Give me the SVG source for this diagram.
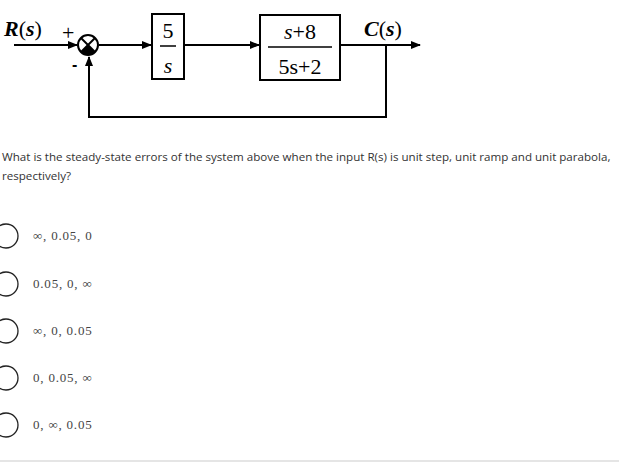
<svg xmlns="http://www.w3.org/2000/svg" width="619" height="471" viewBox="0 0 619 471">
<style>
.ln{stroke:#000;stroke-width:2;fill:none}
.bx{stroke:#000;stroke-width:2;fill:#fff}
.tm{font-family:'Liberation Serif','DejaVu Serif','Times New Roman',serif;font-size:22px;fill:#000}
.q{font-family:'Open Sans',sans-serif;font-size:11.6px;fill:#333}
.op{font-family:'Liberation Serif','DejaVu Serif',serif;font-size:13px;fill:#444;letter-spacing:0.8px}
.rad{stroke:#222;stroke-width:1.3;fill:#fff}
</style>
<defs><marker id="a" markerWidth="10" markerHeight="8" refX="9" refY="4" orient="auto" markerUnits="userSpaceOnUse"><path d="M0,0L10,4L0,8z" fill="#000"/></marker></defs>
<rect width="619" height="471" fill="#fff"/>
<g id="connectors">
<line class="ln" x1="14" y1="45" x2="77" y2="45" marker-end="url(#a)"/>
<line class="ln" x1="99" y1="45" x2="151" y2="45" marker-end="url(#a)"/>
<line class="ln" x1="185" y1="45" x2="259" y2="45" marker-end="url(#a)"/>
<line class="ln" x1="341" y1="45" x2="420" y2="45" marker-end="url(#a)"/>
<polyline class="ln" points="386,45 386,117 89,117 89,57" marker-end="url(#a)"/>
</g>
<g id="sum">
<circle cx="88" cy="45" r="10" class="bx"/>
<line class="ln" x1="81" y1="38" x2="95" y2="52"/><line class="ln" x1="95" y1="38" x2="81" y2="52"/>
<path d="M81,52L88,45L95,52A10,10 0 0 1 81,52z" fill="#000"/>
<text x="62" y="40" class="tm" font-size="15">+</text>
<text x="72" y="70" font-family="'Liberation Sans',sans-serif" font-size="16" font-weight="bold">-</text>
</g>
<g id="R"><text x="4" y="36" class="tm"><tspan font-weight="bold" font-style="italic">R</tspan>(<tspan font-weight="bold" font-style="italic">s</tspan>)</text></g>
<g id="C"><text x="364" y="36" class="tm"><tspan font-weight="bold" font-style="italic">C</tspan>(<tspan font-weight="bold" font-style="italic">s</tspan>)</text></g>
<g id="G1"><rect class="bx" x="152" y="14" width="32" height="65"/>
<text x="168" y="38" class="tm" text-anchor="middle">5</text>
<line x1="160" y1="46" x2="176" y2="46" stroke="#000" stroke-width="1.5"/>
<text x="168" y="73" class="tm" text-anchor="middle" font-style="italic">s</text></g>
<g id="G2"><rect class="bx" x="260" y="15" width="80" height="65"/>
<text x="300" y="39" class="tm" text-anchor="middle"><tspan font-style="italic">s</tspan>+8</text>
<line x1="268" y1="47" x2="332" y2="47" stroke="#000" stroke-width="1.5"/>
<text x="300" y="74" class="tm" text-anchor="middle">5s+2</text></g>
<g id="question">
<text x="2" y="161" class="q">What is the steady-state errors of the system above when the input R(s) is unit step, unit ramp and unit parabola,</text>
<text x="2" y="180" class="q">respectively?</text>
</g>
<g id="options">
<circle class="rad" cx="6" cy="236" r="12"/><text x="33" y="240" class="op">∞, 0.05, 0</text>
<circle class="rad" cx="6" cy="284" r="12"/><text x="33" y="288" class="op">0.05, 0, ∞</text>
<circle class="rad" cx="6" cy="331" r="12"/><text x="33" y="335" class="op">∞, 0, 0.05</text>
<circle class="rad" cx="6" cy="378" r="12"/><text x="33" y="382" class="op">0, 0.05, ∞</text>
<circle class="rad" cx="6" cy="425" r="12"/><text x="33" y="429" class="op">0, ∞, 0.05</text>
</g>
<line x1="0" y1="461" x2="619" y2="461" stroke="#ddd" stroke-width="1.5"/>
</svg>
